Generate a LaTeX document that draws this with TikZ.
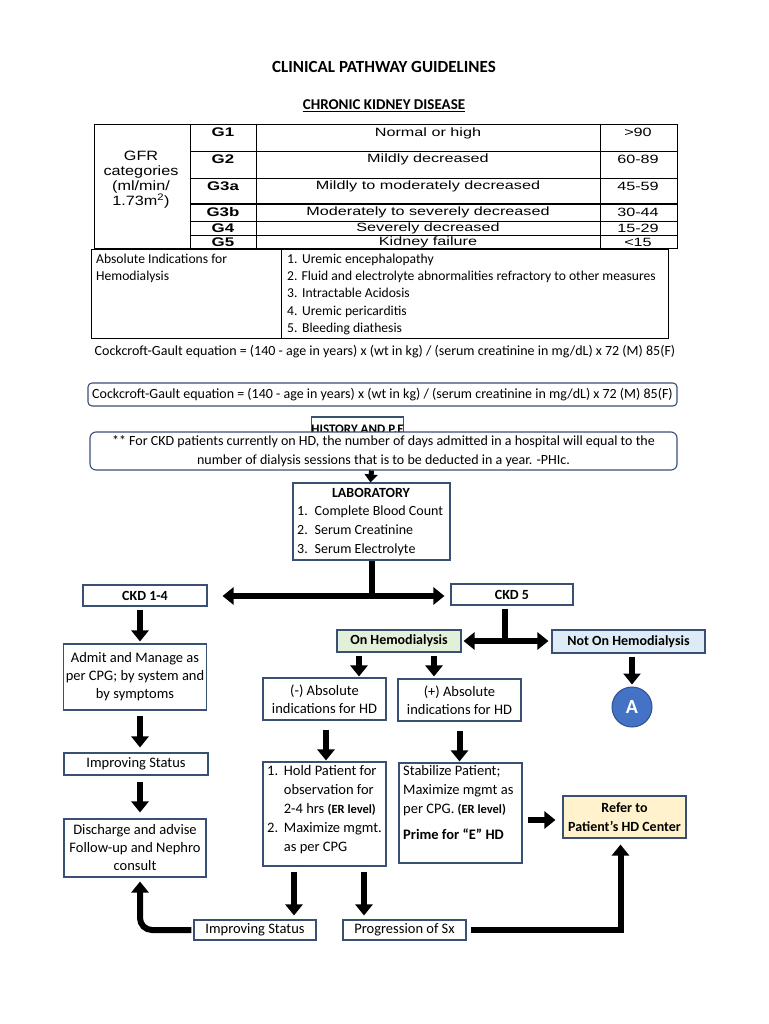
\documentclass[tikz,border=0pt]{standalone}
\usepackage{fontspec}
\setmainfont{Carlito}
\newfontfamily\tabfont[FakeStretch=1.35]{Liberation Sans}
\newfontfamily\gfrfont[FakeStretch=1.2]{Liberation Sans}
\usetikzlibrary{arrows.meta,calc}
\definecolor{bord}{HTML}{3A4F74}
\definecolor{greenfill}{HTML}{E2EFD9}
\definecolor{bluefill}{HTML}{DDEBF7}
\definecolor{yellowfill}{HTML}{FFF2CC}
\definecolor{circfill}{HTML}{4472C4}
\definecolor{circline}{HTML}{2F528F}
\newcommand\bodyfs{\fontsize{14.5}{18}\selectfont}
\newcommand\erfs{\bfseries\fontsize{12.5}{15}\selectfont}
\begin{document}
\begin{tikzpicture}[x=1pt,y=-1pt,
 box/.style={draw=bord, line width=1.1pt, fill=white, inner sep=2pt, align=center, font=\bodyfs},
 arr/.style={line width=6pt, -{Triangle[width=17pt,length=11pt]}},
 darr/.style={line width=6pt, {Triangle[width=17pt,length=11pt]}-{Triangle[width=17pt,length=11pt]}},
 tline/.style={line width=0.9pt, black},
 tt/.style={font=\tabfont\fontsize{12}{14}\selectfont, inner sep=0pt},
 tg/.style={font=\tabfont\bfseries\fontsize{12.5}{14}\selectfont, inner sep=0pt},
 txt/.style={font=\bodyfs, inner sep=0pt}]
\useasboundingbox (0,0) rectangle (768,1024);
\fill[white] (0,0) rectangle (768,1024);

% titles
\node[font=\bfseries\fontsize{17}{20}\selectfont] (title) at (384,67) {CLINICAL PATHWAY GUIDELINES};
\node[font=\bfseries\fontsize{15}{18}\selectfont] (subtitle) at (384,106) {\underline{CHRONIC KIDNEY DISEASE}};

% GFR table
\draw[tline] (94,124) rectangle (677,248);
\draw[tline] (190,124) -- (190,248) (256,124) -- (256,248) (600,124) -- (600,248);
\draw[tline] (190,151) -- (677,151) (190,178) -- (677,178) (190,221) -- (677,221) (190,235) -- (677,235);
\draw[line width=1.8pt] (190,204) -- (677,204);
\node[font=\gfrfont\fontsize{13.5}{15}\selectfont, align=center, inner sep=0pt] (gfr) at (141,180) {GFR\\categories\\(ml/min/\\1.73m\textsuperscript{2})};
\node[tg] (g1) at (223,132) {G1};
\node[tg] (g2) at (223,159) {G2};
\node[tg] (g3a) at (223,186) {G3a};
\node[tg] (g3b) at (223,212) {G3b};
\node[tg] (g4) at (223,228) {G4};
\node[tg] (g5) at (223,242) {G5};
\node[tt] (d1) at (428,133) {Normal or high};
\node[tt] (d2) at (428,159) {Mildly decreased};
\node[tt] (d3) at (428,186) {Mildly to moderately decreased};
\node[tt] (d4) at (428,212) {Moderately to severely decreased};
\node[tt] (d5) at (428,228) {Severely decreased};
\node[tt] (d6) at (428,242.5) {Kidney failure};
\node[tt] (v1) at (638,132) {>90};
\node[tt] (v2) at (638,159) {60-89};
\node[tt] (v3) at (638,186) {45-59};
\node[tt] (v4) at (638,212) {30-44};
\node[tt] (v5) at (638,228) {15-29};
\node[tt] (v6) at (638,242.5) {<15};

% indications table
\draw[tline] (91,249) rectangle (668,338);
\draw[tline] (281,249) -- (281,338);
\node[txt, anchor=north west, align=left, font=\fontsize{13.6}{17.3}\selectfont] (indl) at (96,253.5) {Absolute Indications for\\Hemodialysis};
\node[txt, anchor=north west, align=left, font=\fontsize{13.6}{17.3}\selectfont] (indr) at (287,253.5)
 {\makebox[1.1em][l]{1.}Uremic encephalopathy\\2. Fluid and electrolyte abnormalities refractory to other measures\\\makebox[1.1em][l]{3.}Intractable Acidosis\\\makebox[1.1em][l]{4.}Uremic pericarditis\\\makebox[1.1em][l]{5.}Bleeding diathesis};

\node[txt, font=\fontsize{14}{17}\selectfont] (cg1) at (385,352) {Cockcroft-Gault equation = (140 - age in years) x (wt in kg) / (serum creatinine in mg/dL) x 72 (M) 85(F)};
\node[box, rounded corners=4pt, minimum width=589, minimum height=23, inner sep=0pt, font=\fontsize{14}{17}\selectfont] (cg2) at (382.5,394.5) {Cockcroft-Gault equation = (140 - age in years) x (wt in kg) / (serum creatinine in mg/dL) x 72 (M) 85(F)};

% hidden history box and note
\node[box, minimum width=89, minimum height=24, inner sep=0pt, font=\bfseries\fontsize{13}{15}\selectfont] (hist) at (357.5,429) {HISTORY AND P.E};
\node[box, rounded corners=6pt, minimum width=587, minimum height=38, inner sep=0pt, font=\fontsize{14}{19}\selectfont] (note) at (383.5,451)
 {**\ For CKD patients currently on HD, the number of days admitted in a hospital will equal to the\\number of dialysis sessions that is to be deducted in a year. -PHIc.};

% laboratory
\node[box, minimum width=157, minimum height=77] (lab) at (371.5,521.5) {};
\node[font=\bfseries\fontsize{14}{16}\selectfont, inner sep=0pt] (labt) at (371,493) {LABORATORY};
\node[txt, anchor=west, align=left, font=\fontsize{14}{19}\selectfont] (labl) at (297,531)
 {\makebox[1.25em][l]{1.}Complete Blood Count\\\makebox[1.25em][l]{2.}Serum Creatinine\\\makebox[1.25em][l]{3.}Serum Electrolyte};
\draw[arr, line width=5pt, -{Triangle[width=13pt,length=8pt]}] (lab.north |- note.south) -- ($(lab.north)+(-1,0)$);

% CKD split
\node[box, minimum width=124, minimum height=21, font=\bfseries\fontsize{14}{16}\selectfont] (ckd14) at (145,595.5) {CKD 1-4};
\node[box, minimum width=122, minimum height=21, font=\bfseries\fontsize{14}{16}\selectfont] (ckd5) at (512,594.5) {CKD 5};
\coordinate (split1) at (lab.south |- 0,596);
\draw[line width=6pt] (lab.south) -- (split1);
\draw[darr, shorten <=15pt, shorten >=6pt] (ckd14.east |- split1) -- (ckd5.west |- split1);

% left column
\node[box, minimum width=142, minimum height=66] (admit) at (135,677) {Admit and Manage as\\per CPG; by system and\\by symptoms};
\node[box, minimum width=144, minimum height=22] (imp1) at (136,764) {Improving Status};
\node[box, minimum width=142, minimum height=58] (disch) at (135,848) {Discharge and advise\\Follow-up and Nephro\\consult};
\draw[arr, shorten <=3pt, shorten >=2pt] ($(ckd14.south)+(-5,0)$) -- ($(ckd14.south |- admit.north)+(-5,0)$);
\draw[arr, shorten <=5pt, shorten >=5pt] ($(admit.south)+(5,0)$) -- ($(admit.south |- imp1.north)+(5,0)$);
\draw[arr, shorten <=6pt, shorten >=6pt] ($(imp1.south)+(4,0)$) -- ($(imp1.south |- disch.north)+(4,0)$);

% CKD5 branch
\node[box, fill=greenfill, minimum width=124, minimum height=22, font=\bfseries\fontsize{14}{16}\selectfont] (onhd) at (399,641) {On Hemodialysis};
\node[box, fill=bluefill, minimum width=153, minimum height=23, font=\bfseries\fontsize{14}{16}\selectfont] (nothd) at (628.5,641.5) {Not On Hemodialysis};
\coordinate (split2) at ($(ckd5.south)+(-7,0)$);
\draw[line width=6pt] ($(split2)+(0,3)$) -- (split2 |- onhd.east);
\draw[darr, shorten <=2pt, shorten >=3pt] (onhd.east) -- (nothd.west |- onhd.east);

\node[circle, draw=circline, line width=1pt, fill=circfill, minimum size=40, inner sep=0pt, text=white, font=\bfseries\fontsize{20}{22}\selectfont] (A) at (632,707) {A};
\draw[arr, shorten <=3pt, shorten >=2pt] (nothd.south -| A.north) -- (A.north);

\node[box, minimum width=123, minimum height=42] (neg) at (324.5,699) {(-) Absolute\\indications for HD};
\node[box, minimum width=123, minimum height=42] (pos) at (459.5,700) {(+) Absolute\\indications for HD};
\draw[arr, shorten <=3pt, shorten >=1pt] ($(onhd.south)+(-40,0)$) -- ($(onhd.south |- neg.north)+(-40,0)$);
\draw[arr, shorten <=3pt, shorten >=2pt] ($(onhd.south)+(35,0)$) -- ($(onhd.south |- pos.north)+(35,0)$);

\node[box, minimum width=123, minimum height=104] (hold) at (324.5,814) {};
\node[txt, anchor=north west, align=left, font=\fontsize{14.5}{19}\selectfont] (holdt) at (267,765)
 {\makebox[1.15em][l]{1.}Hold Patient for\\\hspace*{1.15em}observation for\\\hspace*{1.15em}2-4 hrs {\erfs (ER level)}\\\makebox[1.15em][l]{2.}Maximize mgmt.\\\hspace*{1.15em}as per CPG};
\node[box, minimum width=123, minimum height=100] (stab) at (460.5,813) {};
\node[txt, anchor=north west, align=left, font=\fontsize{14.5}{19}\selectfont] (stabt) at (403,765)
 {Stabilize Patient;\\Maximize mgmt as\\per CPG. {\erfs (ER level)}\\[7pt]\textbf{Prime for “E” HD}};
\draw[arr, shorten <=9pt, shorten >=1pt] ($(neg.south)+(1.5,0)$) -- ($(neg.south |- hold.north)+(1.5,0)$);
\draw[arr, shorten <=9pt, shorten >=1pt] (pos.south) -- (pos.south |- stab.north);

\node[box, fill=yellowfill, minimum width=123, minimum height=42, font=\bfseries\fontsize{14}{19}\selectfont] (refer) at (624.5,817) {Refer to\\Patient’s HD Center};
\draw[arr, shorten <=5pt, shorten >=7pt] ($(stab.east |- refer.west)+(0,3)$) -- ($(refer.west)+(0,3)$);

\node[box, minimum width=122, minimum height=20] (imp2) at (255,930) {Improving Status};
\node[box, minimum width=123, minimum height=20] (prog) at (404.5,930) {Progression of Sx};
\draw[arr, shorten <=5pt, shorten >=4pt] ($(hold.south)+(-30.5,0)$) -- ($(hold.south |- imp2.north)+(-30.5,0)$);
\draw[arr, shorten <=5pt, shorten >=4pt] ($(hold.south)+(39.5,0)$) -- ($(hold.south |- prog.north)+(39.5,0)$);
\draw[arr, rounded corners=12pt, shorten <=2pt, shorten >=4pt] (imp2.west) -| ($(disch.south)+(5,0)$);
\draw[arr, shorten <=4pt, shorten >=6pt] (prog.east) -| ($(refer.south)+(-4,0)$);
\end{tikzpicture}
\end{document}
